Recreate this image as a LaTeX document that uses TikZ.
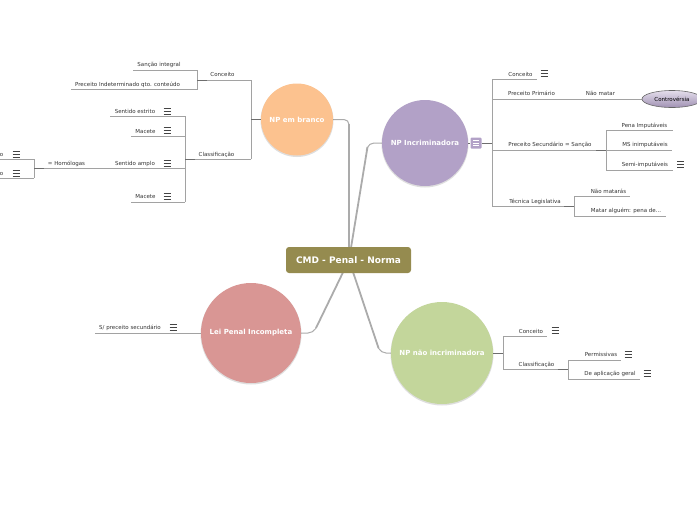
\documentclass[tikz,border=0pt]{standalone}
\usepackage{fontspec}
\setmainfont{DejaVu Sans}
\usetikzlibrary{positioning,shapes.geometric}
\definecolor{rootc}{HTML}{958B4F}
\definecolor{orangec}{HTML}{FCC28F}
\definecolor{purplec}{HTML}{B2A1C7}
\definecolor{greenc}{HTML}{C3D69B}
\definecolor{redc}{HTML}{D99694}
\definecolor{linkc}{HTML}{ABABAB}
\definecolor{branchc}{HTML}{A2A2A2}
\definecolor{stubc}{HTML}{6E6E6E}
\definecolor{iconc}{HTML}{444444}
\newcommand{\dropped}[1]{\raisebox{-.5pt}{#1}}
\tikzset{
  x=1pt,y=-1pt,
  lab/.style={font=\fontsize{5.5}{6.5}\selectfont,text=black!80,inner sep=0pt,anchor=center,yshift=-.7pt},
  bubble/.style={circle,minimum size=#1,inner sep=0pt,text=white,font=\fontsize{7}{8}\bfseries\selectfont},
  rootbox/.style={rectangle,rounded corners=3pt,fill=rootc,text=white,minimum width=125pt,minimum height=26pt,font=\fontsize{9}{10}\bfseries\selectfont,inner sep=0pt},
  branch/.style={draw=branchc,line width=.75pt},
  stub/.style={draw=stubc,line width=1pt},
  toplink/.style={draw=linkc,line width=1.8pt,line join=round},
  endlink/.style={draw=linkc,line width=1pt,rounded corners=5pt},
  shade/.style={fill=black,opacity=.13,draw=none},
  noteicon/.pic={
    \draw[iconc,line width=.6pt] (-3.5,-3)--(3.5,-3) (-3.5,0)--(3.5,0) (-3.5,3)--(3.5,3);
  }
}
\begin{document}
\begin{tikzpicture}
\useasboundingbox (0,0) rectangle (697,520);

% root and topics positions
\coordinate (hub) at (349,260);

% central links
\coordinate (bendA) at (349,124);
\coordinate (bendB) at (367.5,147);
\coordinate (bendC) at (378.5,348);
\coordinate (bendD) at (316,328);
\coordinate (brancoIn) at (333,119.5);
\coordinate (incrIn) at (382,143);
\coordinate (naoIn) at (391,353);
\coordinate (leiIn) at (301,333);
\draw[toplink] (hub) -- (bendA);
\draw[toplink] (hub) -- (bendB);
\draw[toplink] (hub) -- (bendC);
\draw[toplink] (hub) -- (bendD);
\draw[endlink] (bendA) -- (349,119.5) -- (brancoIn);
\draw[endlink] (bendB) -- (369,143) -- (incrIn);
\draw[endlink] (bendC) -- (381,353) -- (naoIn);
\draw[endlink] (bendD) -- (313,333) -- (leiIn);

% shadows
\fill[shade] (297,120.5) circle (36.5);
\fill[shade] (425,144) circle (43.5);
\fill[shade] (442,354) circle (51.5);
\fill[shade] (251,334) circle (50.5);

% main nodes
\node[rootbox] (root) at (348.5,260) {\dropped{CMD - Penal - Norma}};
\node[bubble=72pt,fill=orangec] (branco) at (297,119.5) {\dropped{NP em branco}};
\node[bubble=86pt,fill=purplec] (incr) at (425,143) {\dropped{NP Incriminadora}};
\node[bubble=102pt,fill=greenc] (nao) at (442,353) {\dropped{NP não incriminadora}};
\node[bubble=100pt,fill=redc] (lei) at (251,333) {\dropped{Lei Penal Incompleta}};

% ---------- NP em branco ----------
\coordinate (bJ) at (251,119.5);
\coordinate (bTop) at (251,80);
\coordinate (bBot) at (251,159);
\coordinate (cJ) at (197,80);
\coordinate (cTop) at (197,70);
\coordinate (cBot) at (197,89.5);
\coordinate (sL) at (133,70);
\coordinate (pL) at (71,89.5);
\coordinate (clJ) at (185,159);
\coordinate (clTop) at (185,116);
\coordinate (clBot) at (185,202);
\coordinate (eL) at (110,116);
\coordinate (mL) at (131,136);
\coordinate (mJ) at (185,136);
\coordinate (aJ) at (185,168.5);
\coordinate (hJ) at (44,168.5);
\coordinate (m2L) at (131,202);
\coordinate (hvJ) at (34,168.5);
\coordinate (hvTop) at (34,159);
\coordinate (hvBot) at (34,178);
\coordinate (o1L) at (0,159);
\coordinate (o2L) at (0,178);

\draw[branch] (bTop) -- (bBot);
\draw[branch] (bTop) -- (cJ);
\draw[branch] (bBot) -- (clJ);
\draw[branch] (cTop) -- (cBot);
\draw[branch] (sL) -- (cTop);
\draw[branch] (pL) -- (cBot);
\draw[branch] (clTop) -- (clBot);
\draw[branch] (eL) -- (clTop);
\draw[branch] (mL) -- (mJ);
\draw[branch] (hJ) -- (aJ);
\draw[branch] (m2L) -- (clBot);
\draw[branch] (hvTop) -- (hvBot);
\draw[branch] (o1L) -- (hvTop);
\draw[branch] (o2L) -- (hvBot);
\draw[stub] (branco.west) -- (bJ);
\draw[stub] (cJ) -- +(10,0);
\draw[stub] (clJ) -- +(10,0);
\draw[stub] (hvJ) -- (hJ);

\node[lab] (t1) at (159,64) {Sanção integral};
\node[lab] (t2) at (127.5,84) {Preceito Indeterminado qto. conteúdo};
\node[lab] (t3) at (222.5,74) {Conceito};
\node[lab] (t4) at (216.5,154) {Classificação};
\node[lab] (t5) at (135,111) {Sentido estrito};
\node[lab] (t6) at (145.5,130.5) {Macete};
\node[lab] (t7) at (135,163) {Sentido amplo};
\node[lab] (t8) at (145.5,196) {Macete};
\node[lab] (t9) at (66.5,163) {= Homólogas};
\node[lab] (t10) at (1.5,154) {o};
\node[lab] (t11) at (1.5,173) {o};
\pic at (167,111) {noteicon};
\pic at (167,130) {noteicon};
\pic at (167,163) {noteicon};
\pic at (167,196) {noteicon};
\pic at (16,154) {noteicon};
\pic at (16,173) {noteicon};

% ---------- NP Incriminadora ----------
\node[rectangle,rounded corners=1pt,fill=purplec,minimum size=11pt,inner sep=0pt] (noteB) at (476,143) {};
\draw[white,line width=.6pt] (472.8,140.6)--(479.2,140.6) (472.8,143)--(479.2,143) (472.8,145.4)--(479.2,145.4);
\coordinate (iJ) at (492,143);
\coordinate (iTop) at (492,79);
\coordinate (iBot) at (492,206);
\coordinate (iPP) at (492,99);
\coordinate (iPS) at (492,150);
\coordinate (conR) at (537,79);
\coordinate (ctrL) at (642,99);
\coordinate (psJ) at (606,150);
\coordinate (psS) at (596,150);
\coordinate (psTop) at (606,130.5);
\coordinate (psBot) at (606,170);
\coordinate (piR) at (673,130.5);
\coordinate (msR) at (672,150);
\coordinate (siR) at (673,170);
\coordinate (tlJ) at (574,206);
\coordinate (tlS) at (564,206);
\coordinate (tlTop) at (574,196.5);
\coordinate (tlBot) at (574,216);
\coordinate (nmR) at (630,196.5);
\coordinate (maR) at (666,216);

\draw[stub] (incr.east) -- (noteB.west);
\draw[stub] (noteB.east) -- (iJ);
\draw[branch] (iTop) -- (iBot);
\draw[branch] (iTop) -- (conR);
\draw[branch] (iPP) -- (ctrL);
\draw[branch] (iPS) -- (psJ);
\draw[branch] (iBot) -- (tlJ);
\draw[stub] (psS) -- (psJ);
\draw[stub] (tlS) -- (tlJ);
\draw[branch] (psTop) -- (psBot);
\draw[branch] (psTop) -- (piR);
\draw[branch] (psJ) -- (msR);
\draw[branch] (psBot) -- (siR);
\draw[branch] (tlTop) -- (tlBot);
\draw[branch] (tlTop) -- (nmR);
\draw[branch] (tlBot) -- (maR);

\node[lab] (r1) at (520.5,74) {Conceito};
\node[lab] (r2) at (531.5,93) {Preceito Primário};
\node[lab] (r3) at (600.5,93) {Não matar};
\node[ellipse,draw=black!60,line width=.6pt,inner sep=0pt,minimum width=60pt,minimum height=17pt,
  top color=purplec!35,bottom color=purplec!90!black,font=\fontsize{5.5}{6.5}\selectfont] (ctr) at (672,99) {Controvérsia};
\node[lab] (r4) at (550,144) {Preceito Secundário = Sanção};
\node[lab] (r5) at (644.5,125) {Pena Imputáveis};
\node[lab] (r6) at (645,144) {MS inimputáveis};
\node[lab] (r7) at (645,164) {Semi-imputáveis};
\node[lab] (r8) at (535,201) {Técnica Legislativa};
\node[lab] (r9) at (608.5,191) {Não matarás};
\node[lab] (r10) at (626,210) {Matar alguém: pena de...};
\pic at (544,73.5) {noteicon};
\pic at (680.5,164) {noteicon};

% ---------- NP não incriminadora ----------
\coordinate (nJ) at (503,353);
\coordinate (nTop) at (503,336.5);
\coordinate (nBot) at (503,369);
\coordinate (ncR) at (547,336.5);
\coordinate (nclJ) at (568,369);
\coordinate (nclS) at (558,369);
\coordinate (nclTop) at (568,360);
\coordinate (nclBot) at (568,379);
\coordinate (pmR) at (621,360);
\coordinate (agR) at (640,379);
\draw[stub] (nao.east) -- (nJ);
\draw[branch] (nTop) -- (nBot);
\draw[branch] (nTop) -- (ncR);
\draw[branch] (nBot) -- (nclJ);
\draw[stub] (nclS) -- (nclJ);
\draw[branch] (nclTop) -- (nclBot);
\draw[branch] (nclTop) -- (pmR);
\draw[branch] (nclBot) -- (agR);
\node[lab] (g1) at (531,331) {Conceito};
\node[lab] (g2) at (536.5,364) {Classificação};
\node[lab] (g3) at (601,354) {Permissivas};
\node[lab] (g4) at (610,373) {De aplicação geral};
\pic at (555,330) {noteicon};
\pic at (628,354) {noteicon};
\pic at (647,373) {noteicon};

% ---------- Lei Penal Incompleta ----------
\coordinate (lL) at (95,333);
\draw[branch] (lL) -- (lei.west);
\node[lab] (l1) at (130,327) {S/ preceito secundário};
\pic at (173,327) {noteicon};
\end{tikzpicture}
\end{document}
